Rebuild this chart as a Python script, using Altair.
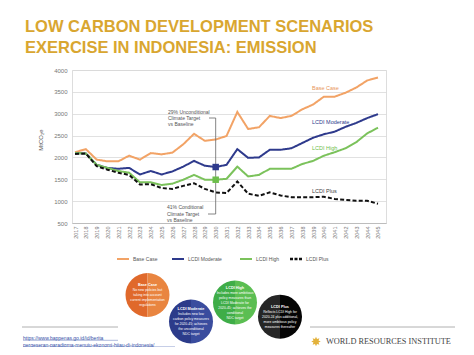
import math
import altair as alt
import pandas as pd

# ---------------- data ----------------
years = list(range(2017, 2046))
series_names = ["Base Case", "LCDI Moderate", "LCDI High", "LCDI Plus"]
base_case = [2120, 2190, 1950, 1910, 1910, 2040, 1950, 2100, 2070, 2110, 2300, 2540, 2380, 2410,
             2490, 3040, 2650, 2690, 2950, 2900, 2950, 3100, 3210, 3390, 3390, 3480, 3600, 3760, 3830]
lcdi_moderate = [2100, 2090, 1830, 1760, 1740, 1760, 1610, 1690, 1610, 1680, 1790, 1920, 1810, 1780,
                 1830, 2190, 1990, 2000, 2175, 2175, 2210, 2330, 2450, 2530, 2590, 2700, 2790, 2900, 2990]
lcdi_high = [2100, 2090, 1830, 1760, 1690, 1650, 1430, 1430, 1370, 1400, 1490, 1600, 1490, 1490,
             1510, 1790, 1565, 1600, 1740, 1740, 1740, 1850, 1920, 2040, 2120, 2210, 2350, 2550, 2680]
lcdi_plus = [2080, 2090, 1800, 1720, 1650, 1600, 1380, 1390, 1300, 1280, 1350, 1410, 1280, 1200,
             1185, 1450, 1170, 1120, 1200, 1130, 1090, 1090, 1090, 1100, 1050, 1030, 1010, 1010, 940]
y_ticks = [500, 1000, 1500, 2000, 2500, 3000, 3500, 4000]
target_year = 2030

title_lines = ["LOW CARBON DEVELOPMENT SCENARIOS", "EXERCISE IN INDONESIA: EMISSION"]
y_title = "MtCO\u2082e"
note_uncond = ["29% Unconditional", "Climate Target", "vs Baseline"]
note_cond = ["41% Conditional", "Climate Target", "vs Baseline"]
circle_texts = [
    ["Base Case", "No new policies but", "taking into account", "current implementation", "regulations"],
    ["LCDI Moderate", "Includes new low", "carbon policy measures", "for 2020-45; achieves", "the unconditional", "NDC target"],
    ["LCDI High", "Includes more ambitious", "policy measures than", "LCDI Moderate for", "2020-45; achieves the", "conditional", "NDC target"],
    ["LCDI Plus", "Reflects LCDI High for", "2020-24 plus additional,", "more ambitious policy", "measures thereafter"],
]
url_lines = ["https://www.bappenas.go.id/id/berita",
             "pergeseran-paradigma-menuju-ekonomi-hijau-di-indonesia/"]
org_name = "WORLD RESOURCES INSTITUTE"

# ---------------- style / layout ----------------
colors = ["#F2A366", "#2E3A8C", "#7BC25B", "#111111"]
label_colors = ["#E8955A", "#2E3A8C", "#6DBE4B", "#444444"]
circle_left = ["#E0692B", "#2C3B8A", "#3FAD48", "#262626"]
circle_right = ["#E98540", "#3A4C9E", "#5BBE52", "#050505"]
gold = "#D9A630"
FONT = "Liberation Sans"
W, H = 314, 153
OX, OY = 72, 70  # page position of plot origin


def text_layer(lines, xs, ys, **props):
    df = pd.DataFrame({"t": lines, "px": [x - OX for x in xs], "py": [y - OY for y in ys]})
    props.setdefault("font", FONT)
    return alt.Chart(df).mark_text(**props).encode(
        x=alt.X("px:Q", scale=None, axis=None),
        y=alt.Y("py:Q", scale=None, axis=None),
        text="t:N",
    )


def rule_layer(x1, y1, x2, y2, **props):
    df = pd.DataFrame({"a": [x1 - OX], "b": [y1 - OY], "c": [x2 - OX], "d": [y2 - OY]})
    return alt.Chart(df).mark_rule(**props).encode(
        x=alt.X("a:Q", scale=None, axis=None), y=alt.Y("b:Q", scale=None, axis=None),
        x2="c:Q", y2="d:Q")


rows = []
for name, vals in zip(series_names, [base_case, lcdi_moderate, lcdi_high, lcdi_plus]):
    for yr, v in zip(years, vals):
        rows.append({"year": yr, "value": v, "series": name, "order": series_names.index(name)})
df = pd.DataFrame(rows)

xscale = alt.Scale(domain=[2016.72, 2045.74], nice=False, zero=False)
yscale = alt.Scale(domain=[500, 4000], nice=False, zero=False)
xaxis = alt.Axis(values=years, format="d", labelAngle=270, labelFontSize=5.5,
                 labelColor="#777777", labelFont=FONT, ticks=False, grid=False,
                 domainColor="#bdbdbd", domainWidth=1, labelPadding=3,
                 labelOverlap=False, labelFlush=False, title=None)
yaxis = alt.Axis(values=y_ticks, format="d", grid=True, gridColor="#d9d9d9",
                 gridWidth=0.8, domain=False, ticks=False, labelFontSize=6,
                 labelColor="#777777", labelFont=FONT, labelPadding=5,
                 labelOverlap=False, labelFlush=False, title=None)

lines = alt.Chart(df).mark_line(strokeWidth=2).encode(
    x=alt.X("year:Q", scale=xscale, axis=xaxis),
    y=alt.Y("value:Q", scale=yscale, axis=yaxis),
    color=alt.Color("series:N", scale=alt.Scale(domain=series_names, range=colors), legend=None),
    strokeDash=alt.StrokeDash("series:N", scale=alt.Scale(domain=series_names,
                              range=[[1, 0], [1, 0], [1, 0], [4, 2.2]]), legend=None),
    detail="series:N",
    order="order:Q",
)

# connector for targets
ti = years.index(target_year)
conn_df = pd.DataFrame({"year": [target_year], "value": [lcdi_moderate[ti]]})
tx = 75 + (target_year - 2017) * (303 / 28)
conn = rule_layer(tx, 118, tx, 214, color="#666666", strokeWidth=0.8)
conn_h1 = rule_layer(209, 118, tx, 118, color="#666666", strokeWidth=0.8)
conn_h2 = rule_layer(208, 214, tx, 214, color="#666666", strokeWidth=0.8)

sq_df = pd.DataFrame({"year": [target_year, target_year],
                      "value": [lcdi_moderate[ti], lcdi_high[ti]],
                      "c": [colors[1], "#6DBE4B"]})
squares = alt.Chart(sq_df).mark_square(size=42, opacity=1).encode(
    x=alt.X("year:Q", scale=xscale, axis=xaxis), y=alt.Y("value:Q", scale=yscale, axis=yaxis),
    color=alt.Color("c:N", scale=None))

layers = [lines, conn, conn_h1, conn_h2, squares]

# titles
layers.append(text_layer(title_lines, [25, 25], [27, 47.5], align="left", baseline="middle",
                         fontSize=16.5, fontWeight="bold", color=gold))
layers.append(text_layer([y_title], [41], [140], angle=270, align="center", baseline="middle",
                         fontSize=6, color="#555555"))

# series labels
for lab, ly, c in zip(series_names, [87.5, 122, 147.5, 190.5], label_colors):
    layers.append(text_layer([lab], [312], [ly], align="left", baseline="middle",
                             fontSize=5.5, color=c))

# annotations
layers.append(text_layer(note_uncond, [168] * 3, [111.7, 117.5, 123.5], align="left",
                         baseline="middle", fontSize=5, color="#555555"))
layers.append(text_layer(note_cond, [167] * 3, [207, 213.5, 220], align="left",
                         baseline="middle", fontSize=5, color="#555555"))

# legend
leg_x = [117, 172, 240, 290]
for i, name in enumerate(series_names):
    layers.append(rule_layer(leg_x[i], 259, leg_x[i] + 12, 259, color=colors[i],
                             strokeWidth=2 if i < 3 else 2.4,
                             **({"strokeDash": [3, 1.5]} if i == 3 else {})))
    layers.append(text_layer([name], [leg_x[i] + 16], [259], align="left", baseline="middle",
                             fontSize=5, color="#555555"))

# circles
centers = [(147.5, 295), (191, 321.5), (235, 302.5), (280, 316.7)]
cdf = pd.DataFrame({"px": [c[0] - OX for c in centers], "py": [c[1] - OY for c in centers],
                    "cl": circle_left, "cr": circle_right})
for th0, th1, col in [(math.pi, 2 * math.pi, "cl"), (0, math.pi, "cr")]:
    layers.append(alt.Chart(cdf).mark_arc(theta=th0, theta2=th1, outerRadius=22, innerRadius=0).encode(
        x=alt.X("px:Q", scale=None, axis=None), y=alt.Y("py:Q", scale=None, axis=None),
        color=alt.Color(f"{col}:N", scale=None)))
for (cx, cy), txt in zip(centers, circle_texts):
    n = len(txt)
    ys = [cy - (n - 1) * 2.5 + k * 5 for k in range(n)]
    layers.append(text_layer(txt[:1], [cx], ys[:1], align="center", baseline="middle",
                             fontSize=3.8, fontWeight="bold", color="white"))
    layers.append(text_layer(txt[1:], [cx] * (n - 1), ys[1:], align="center", baseline="middle",
                             fontSize=3.4, color="white"))

# bottom lines, url, logo
layers.append(rule_layer(22, 327, 118, 327, color="#b0b0b0", strokeWidth=1))
layers.append(rule_layer(310, 327, 455, 327, color="#b0b0b0", strokeWidth=1))
layers.append(text_layer(url_lines, [23, 23], [338, 344.5], align="left", baseline="middle",
                         fontSize=5, color="#3550A8"))
layers.append(rule_layer(23, 340.3, 118, 340.3, color="#3550A8", strokeWidth=0.4))
layers.append(rule_layer(23, 346.8, 175, 346.8, color="#3550A8", strokeWidth=0.4))

star = "M0,-1L0.22,-0.53L0.71,-0.71L0.53,-0.22L1,0L0.53,0.22L0.71,0.71L0.22,0.53L0,1L-0.22,0.53L-0.71,0.71L-0.53,0.22L-1,0L-0.53,-0.22L-0.71,-0.71L-0.22,-0.53Z"
logo_df = pd.DataFrame({"px": [316 - OX], "py": [341.5 - OY]})
layers.append(alt.Chart(logo_df).mark_point(shape=star, size=90, filled=True, color="#E3B23C",
                                            opacity=1).encode(
    x=alt.X("px:Q", scale=None, axis=None), y=alt.Y("py:Q", scale=None, axis=None)))
layers.append(text_layer([org_name], [326], [342], align="left", baseline="middle",
                         fontSize=8.3, color="#444444", font="Liberation Serif"))

chart = alt.layer(*layers).properties(
    width=W, height=H, autosize="none",
    padding={"left": 64, "top": 62, "right": 80, "bottom": 124},
).configure_view(stroke=None).configure(background="white")

chart.save("out.html", embed_options={"renderer": "svg", "actions": False})
